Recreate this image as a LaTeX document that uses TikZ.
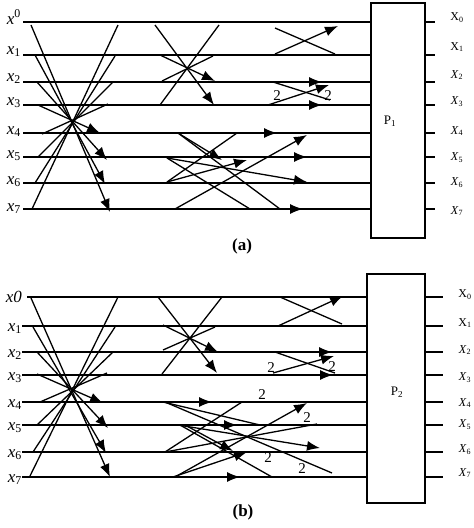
\documentclass[tikz,border=0pt]{standalone}
\usepackage{fontspec}
\setmainfont{Liberation Serif}
\usetikzlibrary{arrows.meta}

\begin{document}
\begin{tikzpicture}[x=1pt,y=-1pt,
		wire/.style = {line width=1.3pt},
		arr/.style = {wire, -{Latex[length=13pt,width=10pt]}},
		inlbl/.style = {anchor=base east, inner sep=0pt, font=\fontsize{17}{17}\selectfont},
		outlbl/.style = {inner sep=0pt, font=\fontsize{12}{12}\selectfont},
		wgt/.style = {inner sep=0pt, font=\fontsize{15}{15}\selectfont},
		perm/.style = {draw, line width=1.5pt, inner sep=0pt},
		sublbl/.style = {font=\fontsize{17}{17}\selectfont\bfseries}
                    ]
		\useasboundingbox (0,0) rectangle (474,528);

		% ---------- (a) ----------
		\node(P1) [perm, minimum width=54pt, minimum height=235pt] at (398,120.5) {};
		\node(P1t) at (390,121) {\fontsize{13}{13}\selectfont P\textsubscript{1}};
		\foreach \i/\y in {0/22,1/55,2/82,3/105,4/133,5/157,6/183,7/209}{
			\coordinate (a\i) at (23,\y);
			\draw[wire] (a\i) -- (a\i -| P1.west);
			\draw[wire] (P1.east |- a\i) -- ++(9,0);
		}
		\node(ia0) [inlbl] at (21,24) {\textit{x}\textsuperscript{0}};
		\foreach \i/\y in {1/54,2/81,3/105,4/134,5/158,6/184,7/211}
			\node(ia\i) [inlbl] at (21,\y) {\textit{x}\textsubscript{\i}};
		\node(oa0) [outlbl] at (457,18) {X\textsubscript{0}};
		\node(oa1) [outlbl] at (457,47) {X\textsubscript{1}};
		\foreach \i/\y in {2/75,3/102,4/131,5/158,6/183,7/211}
			\node(oa\i) [outlbl] at (457,\y) {\textit{X}\textsubscript{\i}};

		% arrows of (a)
		\foreach \n/\sx/\sy/\ex/\ey in {1/31/25/110/212, 2/35/55/105/184, 3/37/82/107/160,
				4/38/105/100/133, 5/155/25/214/105, 6/160/55/215/81,
				7/178/133/222/160, 8/167/158/307/182, 9/167/182/247/160, 10/175/209/307/135,
				11/262/133/277/133, 12/292/157/307/157, 13/288/209/303/209,
				14/275/54/338/26, 15/268/105/329/85, 16/307/82/322/82, 17/307/105/322/105}{
			\coordinate (sa\n) at (\sx,\sy);
			\coordinate (ea\n) at (\ex,\ey);
			\draw[arr] (sa\n) -- (ea\n);
		}
		% plain branches of (a)
		\foreach \n/\sx/\sy/\ex/\ey in {1/32/209/118/25, 2/35/183/115/56, 3/38/157/113/82,
				4/42/134/108/104, 5/160/105/219/25, 6/162/81/213/56,
				7/178/133/280/209, 8/167/158/250/209, 9/167/182/237/133,
				10/275/28/335/54, 11/273/82/330/100}{
			\coordinate (ua\n) at (\sx,\sy);
			\coordinate (va\n) at (\ex,\ey);
			\draw[wire] (ua\n) -- (va\n);
		}
		\node(wa1) [wgt] at (277,96) {2};
		\node(wa2) [wgt] at (328,96) {2};
		\node(capa) [sublbl] at (242,246) {(a)};

		% ---------- (b) ----------
		\node(P2) [perm, minimum width=58pt, minimum height=229pt] at (396,388.5) {};
		\node(P2t) at (397,392) {\fontsize{13}{13}\selectfont P\textsubscript{2}};
		\foreach \i/\y/\x in {0/297/27,1/326/22,2/352/22,3/375/22,4/402/22,5/425/22,6/452/22,7/477/22}{
			\coordinate (b\i) at (\x,\y);
			\draw[wire] (b\i) -- (b\i -| P2.west);
			\draw[wire] (P2.east |- b\i) -- ++(17,0);
		}
		\node(ib0) [inlbl] at (22,302) {\textit{x0}};
		\foreach \i/\y in {1/331,2/357,3/380,4/407,5/430,6/457,7/482}
			\node(ib\i) [inlbl] at (22,\y) {\textit{x}\textsubscript{\i}};
		\node(ob0) [outlbl] at (465,295) {X\textsubscript{0}};
		\node(ob1) [outlbl] at (465,323) {X\textsubscript{1}};
		\foreach \i/\y in {2/350,3/378,4/403,5/425,6/450,7/473}
			\node(ob\i) [outlbl] at (465,\y) {\textit{X}\textsubscript{\i}};

		% arrows of (b)
		\foreach \n/\sx/\sy/\ex/\ey in {1/31/298/110/477, 2/33/327/106/453, 3/37/352/108/428,
				4/37/374/103/403, 5/158/297/217/373, 6/163/325/218/352,
				7/197/402/212/402, 8/222/425/237/425, 9/225/477/240/477,
				10/175/477/307/403, 11/178/425/320/448, 12/185/425/233/451, 13/173/477/247/452,
				14/278/326/343/296, 15/273/373/334/356, 16/317/352/332/352, 17/318/375/333/375}{
			\coordinate (sb\n) at (\sx,\sy);
			\coordinate (eb\n) at (\ex,\ey);
			\draw[arr] (sb\n) -- (eb\n);
		}
		% plain branches of (b)
		\foreach \n/\sx/\sy/\ex/\ey in {1/30/476/118/297, 2/33/452/115/327, 3/37/425/113/352,
				4/40/402/107/373, 5/162/374/222/297, 6/163/350/215/327,
				7/163/402/260/425, 8/165/402/332/473, 9/180/425/272/477,
				10/165/452/242/402, 11/165/452/317/424,
				12/280/297/342/324, 13/275/352/335/373}{
			\coordinate (ub\n) at (\sx,\sy);
			\coordinate (vb\n) at (\ex,\ey);
			\draw[wire] (ub\n) -- (vb\n);
		}
		\node(wb1) [wgt] at (271,368) {2};
		\node(wb2) [wgt] at (332,367) {2};
		\node(wb3) [wgt] at (262,395) {2};
		\node(wb4) [wgt] at (307,418) {2};
		\node(wb5) [wgt] at (268,458) {2};
		\node(wb6) [wgt] at (302,469) {2};
		\node(capb) [sublbl] at (243,512) {(b)};
	\end{tikzpicture}
\end{document}
